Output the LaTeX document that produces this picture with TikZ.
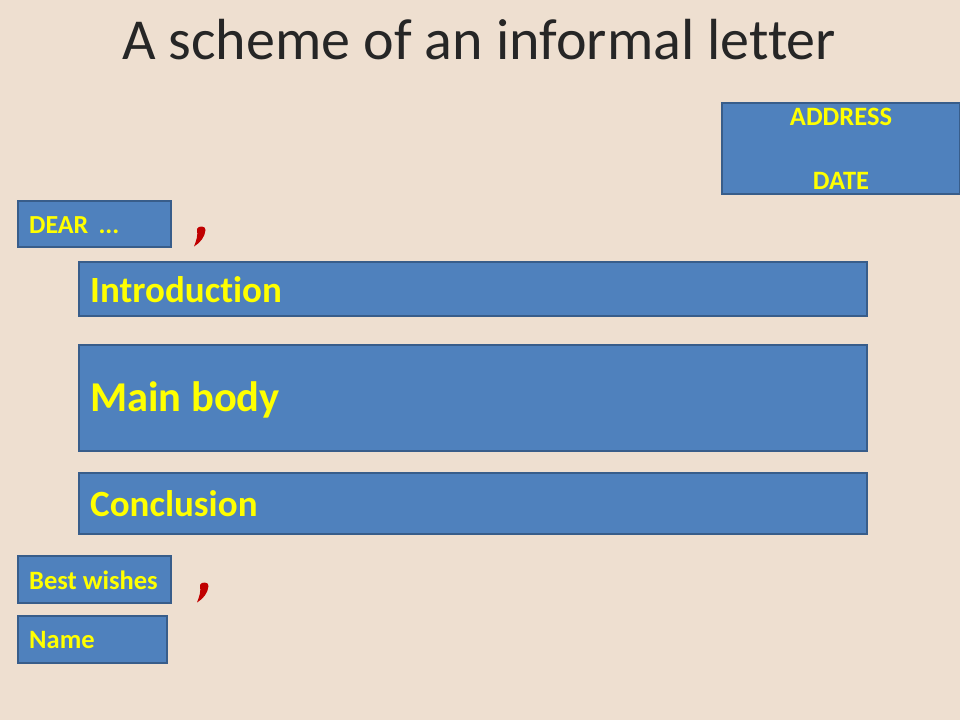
\documentclass[tikz,border=0pt]{standalone}
\usepackage{fontspec}
\setmainfont{Carlito}[Ligatures=NoCommon]
\definecolor{bg}{HTML}{EEDFD0}
\definecolor{boxfill}{HTML}{4F81BD}
\definecolor{boxline}{HTML}{385D8A}
\definecolor{txt}{HTML}{FFFF00}
\definecolor{commared}{HTML}{C00000}
\begin{document}
\begin{tikzpicture}[x=1pt,y=-1pt,
  box/.style={draw=boxline,fill=boxfill,line width=2pt},
  lbl/.style={text=txt,font=\bfseries,anchor=west,inner sep=0pt},
  bigcomma/.pic={\fill[commared] (-4,2) .. controls (-3,-1.5) and (5,-1.5) .. (4.5,3) .. controls (4,10) and (-1,16) .. (-7,19.5) .. controls (-4.5,13) and (-3,9) .. (-4,2) -- cycle;}]
\useasboundingbox[fill=bg] (0,0) rectangle (960,720);
\node[inner sep=0pt,text=black!85,font=\fontsize{58}{58}\selectfont] (title) at (479,40) {A scheme of an informal letter};
% address box
\draw[box] (722,103) rectangle (960,194);
\node[text=txt,font=\fontsize{26.5}{26.5}\selectfont\bfseries,inner sep=0pt] (addr) at (841,117) {ADDRESS};
\node[text=txt,font=\fontsize{26.5}{26.5}\selectfont\bfseries,inner sep=0pt] (date) at (841,181) {DATE};
% dear
\draw[box] (18,201) rectangle (171,247);
\node[lbl,font=\fontsize{26}{26}\selectfont\bfseries] (dear) at (29,225) {DEAR \,...};
\pic at (201,227) {bigcomma};
% intro
\draw[box] (79,262) rectangle (867,316);
\node[lbl,font=\fontsize{37}{37}\selectfont\bfseries] (intro) at (90,290) {Introduction};
% main body
\draw[box] (79,345) rectangle (867,451);
\node[lbl,font=\fontsize{42.5}{42.5}\selectfont\bfseries] (main) at (90,400) {Main body};
% conclusion
\draw[box] (79,473) rectangle (867,534);
\node[lbl,font=\fontsize{37}{37}\selectfont\bfseries] (concl) at (90,504) {Conclusion};
% best wishes
\draw[box] (18,556) rectangle (171,603);
\node[lbl,font=\fontsize{26.5}{26.5}\selectfont\bfseries] (best) at (29,580) {Best wishes};
\pic at (204,583) {bigcomma};
% name
\draw[box] (18,616) rectangle (167,663);
\node[lbl,font=\fontsize{26.5}{26.5}\selectfont\bfseries] (name) at (29,640) {Name};
\end{tikzpicture}
\end{document}
